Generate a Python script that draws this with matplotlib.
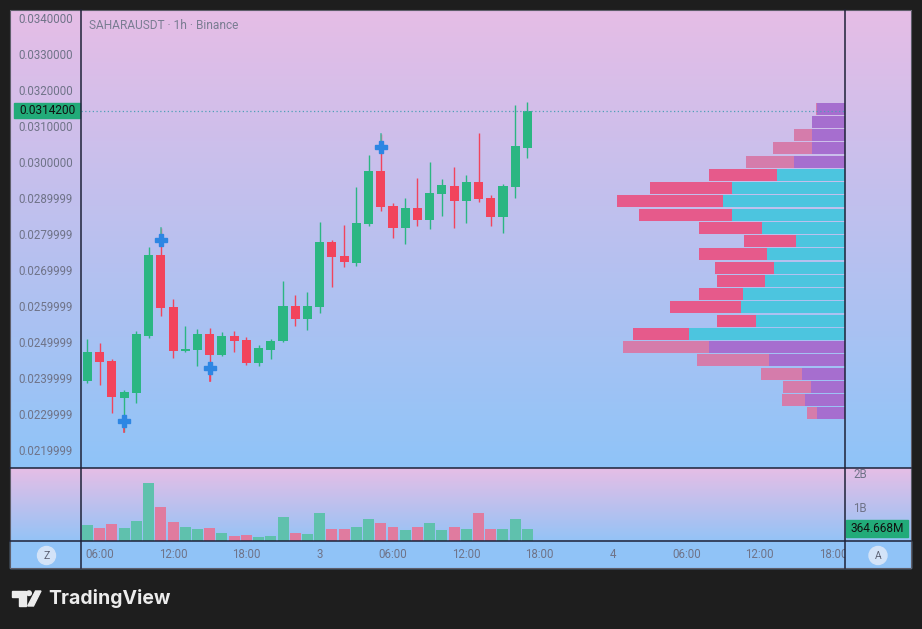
import matplotlib
matplotlib.use("Agg")
import matplotlib.pyplot as plt
import matplotlib.patches as patches
import numpy as np
from matplotlib.colors import to_rgb

plt.rcParams['font.family'] = ['Roboto', 'DejaVu Sans']

W, H = 922, 629

# --- data (1h candles, 2nd 05:00 -> 3rd 17:00) ---
hours = np.arange(5, 42)  # hours since day 2 00:00
opens = [0.023925, 0.024714, 0.024481, 0.023453, 0.023592, 0.025167, 0.027417, 0.025981,
         0.024750, 0.024778, 0.025222, 0.024639, 0.025167, 0.025056, 0.024425, 0.024786,
         0.025036, 0.026000, 0.025631, 0.025981, 0.027769, 0.027389, 0.027203, 0.028278,
         0.029758, 0.028778, 0.028175, 0.028731, 0.028389, 0.029111, 0.029333, 0.028925,
         0.029444, 0.029008, 0.028481, 0.029314, 0.030397]
highs = [0.025083, 0.024964, 0.024519, 0.023667, 0.025314, 0.027647, 0.028158, 0.026194,
         0.025444, 0.025361, 0.025381, 0.025286, 0.025306, 0.025131, 0.024917, 0.025075,
         0.026694, 0.026306, 0.026397, 0.028325, 0.027833, 0.028250, 0.029314, 0.030194,
         0.030769, 0.028853, 0.029008, 0.029564, 0.030008, 0.029519, 0.029869, 0.029639,
         0.030814, 0.029083, 0.029389, 0.031583, 0.031658]
lows = [0.023861, 0.023806, 0.023019, 0.022500, 0.023297, 0.025103, 0.025731, 0.024564,
        0.024714, 0.024342, 0.023917, 0.024620, 0.024731, 0.024361, 0.024342, 0.024519,
        0.025008, 0.025453, 0.025333, 0.025797, 0.026536, 0.027075, 0.027111, 0.028222,
        0.028647, 0.027897, 0.027722, 0.028231, 0.028139, 0.028500, 0.028175, 0.028314,
        0.028897, 0.028231, 0.028036, 0.028992, 0.030119]
closes = [0.024731, 0.024453, 0.023464, 0.023611, 0.025222, 0.027417, 0.025953, 0.024758,
          0.024792, 0.025222, 0.024639, 0.025167, 0.025036, 0.024425, 0.024833, 0.025028,
          0.026000, 0.025631, 0.026000, 0.027769, 0.027369, 0.027231, 0.028297, 0.029750,
          0.028758, 0.028175, 0.028731, 0.028389, 0.029131, 0.029361, 0.028925, 0.029444,
          0.028981, 0.028481, 0.029333, 0.030444, 0.031420]
volume_b = [0.47, 0.38, 0.51, 0.38, 0.59, 1.71, 1.00, 0.57, 0.41, 0.35, 0.38, 0.24, 0.14,
            0.17, 0.11, 0.14, 0.71, 0.24, 0.21, 0.83, 0.35, 0.35, 0.41, 0.65, 0.54, 0.41,
            0.32, 0.41, 0.53, 0.33, 0.41, 0.36, 0.83, 0.35, 0.36, 0.65, 0.365]

# signal markers
sig_hours = [8, 11, 15, 29]
sig_price = [0.022806, 0.027833, 0.024278, 0.030417]
sig_side = ['low', 'high', 'low', 'high']

# volume profile, rows top -> bottom (arbitrary volume units)
profile_high = 0.031667
profile_low = 0.022833
prof_up = [112, 132, 132, 132, 203, 271, 452, 487, 452, 332, 195, 312, 284, 320, 407, 416,
           356, 624, 543, 304, 172, 136, 161, 111]
prof_down = [4, 0, 71, 156, 193, 273, 328, 424, 371, 252, 208, 271, 235, 192, 176, 283,
             155, 223, 344, 287, 165, 111, 90, 40]
va_rows = range(5, 18)

yticks = [0.034, 0.033, 0.032, 0.031, 0.030, 0.0289999, 0.0279999, 0.0269999, 0.0259999,
          0.0249999, 0.0239999, 0.0229999, 0.0219999]
ytick_labels = ['0.0340000', '0.0330000', '0.0320000', '0.0310000', '0.0300000',
                '0.0289999', '0.0279999', '0.0269999', '0.0259999', '0.0249999',
                '0.0239999', '0.0229999', '0.0219999']
xticks = [6, 12, 18, 24, 30, 36, 42, 48, 54, 60, 66]
xtick_labels = ['06:00', '12:00', '18:00', '3', '06:00', '12:00', '18:00', '4',
                '06:00', '12:00', '18:00']
last_price = 0.03142
last_volume = '364.668M'

GREEN = '#2bb682'
RED = '#f2445c'
VOL_UP = '#5fc1ad'
VOL_DN = '#e07b9f'
TXT = '#6f7388'
LINE = '#1e2238'


def box(x0, y0, x1, y1):
    return [x0 / W, 1 - y1 / H, (x1 - x0) / W, (y1 - y0) / H]


def vgrad(top, bot, n=256):
    a, b = np.array(to_rgb(top)), np.array(to_rgb(bot))
    t = np.linspace(0, 1, n)[:, None]
    return (a + (b - a) * t)[:, None, :]


fig = plt.figure(figsize=(W / 100, H / 100), dpi=100, facecolor='#1e1e1e')

# background panels
bg = fig.add_axes([0, 0, 1, 1])
bg.axis('off')
bg.imshow(vgrad('#e6bde6', '#8fc4f8'), extent=(10, 911, 468, 10), aspect='auto',
          interpolation='bilinear')
bg.imshow(vgrad('#e6bee6', '#94c3f6'), extent=(10, 911, 541, 468), aspect='auto',
          interpolation='bilinear')
bg.add_patch(patches.Rectangle((10, 541), 901, 27, color='#90c3f7'))
bg.set_xlim(0, W)
bg.set_ylim(H, 0)

# main price pane
y_top = 0.034 + 8 / 36000
y_bot = 0.034 - 450 / 36000
x_left = 5 - 6.5 / 12.22
x_right = x_left + 764 / 12.22

pax = fig.add_axes(box(81, 10, 845, 468))
pax.patch.set_alpha(0)
row_h = (profile_high - profile_low) / len(prof_up)
centers = profile_high - (np.arange(len(prof_up)) + 0.5) * row_h
up_cols = ['#4cc5df' if i in va_rows else '#a66ecf' for i in range(len(prof_up))]
dn_cols = ['#e65a8b' if i in va_rows else '#d57cab' for i in range(len(prof_up))]
pax.barh(centers, prof_up, height=row_h * 0.92, left=0, color=up_cols)
pax.barh(centers, prof_down, height=row_h * 0.92, left=prof_up, color=dn_cols)
tot_max = max(u + d for u, d in zip(prof_up, prof_down))
pax.set_xlim(tot_max / 0.298, 0)
pax.set_ylim(y_bot, y_top)
pax.axis('off')

ax = fig.add_axes(box(81, 10, 845, 468))
ax.patch.set_alpha(0)
cols = [GREEN if c >= o else RED for o, c in zip(opens, closes)]
ax.vlines(hours, lows, highs, colors=cols, linewidth=1.0)
body = [max(abs(c - o), 0.00003) for o, c in zip(opens, closes)]
ax.bar(hours, body, bottom=np.minimum(opens, closes), width=0.74, color=cols, linewidth=0)
for h, p, s in zip(sig_hours, sig_price, sig_side):
    i = list(hours).index(h)
    end = lows[i] if s == 'low' else highs[i]
    ax.plot([h, h], [p, end], color=RED if s == 'low' else '#4fb7a6', lw=1.2, zorder=4)
    ax.plot(h, p, marker='P', ms=9, color='#2d86e3', mec='#2d86e3', zorder=5)
ax.axhline(last_price, color='#4f9fb8', lw=0.9, ls=(0, (1, 2)))
ax.set_xlim(x_left, x_right)
ax.set_ylim(y_bot, y_top)
ax.set_yticks(yticks)
ax.set_yticklabels(ytick_labels)
ax.tick_params(axis='y', length=0, pad=6, labelsize=8.3, labelcolor=TXT)
ax.set_xticks([])
for s in ax.spines.values():
    s.set_visible(False)
ax.text(0.011, 0.967, 'SAHARAUSDT · 1h · Binance', transform=ax.transAxes,
        fontsize=8.6, color='#7a7d92', va='center', ha='left')

# volume pane
vax = fig.add_axes(box(81, 468, 845, 541))
vax.patch.set_alpha(0)
vcols = [VOL_UP if c >= o else VOL_DN for o, c in zip(opens, closes)]
vax.bar(hours, volume_b, width=0.9, color=vcols, linewidth=0)
vax.set_xlim(x_left, x_right)
vax.set_ylim(0, 73 / 34)
vax.yaxis.tick_right()
vax.set_yticks([1, 2])
vax.set_yticklabels(['1B', '2B'])
vax.tick_params(axis='y', length=0, pad=6, labelsize=8.3, labelcolor=TXT)
vax.set_xticks([])
for s in vax.spines.values():
    s.set_visible(False)

# time axis
tax = fig.add_axes(box(81, 541, 845, 568))
tax.patch.set_alpha(0)
tax.set_xlim(x_left, x_right)
tax.set_ylim(0, 1)
tax.axis('off')
for x, lab in zip(xticks, xtick_labels):
    tax.text(x, 0.5, lab, ha='center', va='center', fontsize=8.3, color=TXT, clip_on=True)

# overlay: separators, price labels, buttons, logo
ov = fig.add_axes([0, 0, 1, 1], zorder=10)
ov.patch.set_alpha(0)
ov.set_xlim(0, W)
ov.set_ylim(H, 0)
ov.axis('off')
ov.add_patch(patches.Rectangle((10, 9.5), 901, 558.5, fill=False, ec='#5e5e6a', lw=0.8))
for yy in (468, 541):
    ov.plot([10, 911], [yy, yy], color=LINE, lw=1.1)
for xx in (81, 845):
    ov.plot([xx, xx], [10, 568], color=LINE, lw=1.1)

py = 18 + (0.034 - last_price) * 36000
ov.add_patch(patches.Rectangle((14, py - 7.5), 66, 15, color='#22ab79'))
ov.text(47, py, '0.0314200', ha='center', va='center', fontsize=8.6, color='#111111')
ov.add_patch(patches.Rectangle((846, 520), 62, 17, color='#22ab79'))
ov.text(877, 528.5, last_volume, ha='center', va='center', fontsize=8.6, color='#111111')

for cx, lab in ((46.5, 'Z'), (878, 'A')):
    ov.add_patch(patches.Circle((cx, 555.5), 9, color='#d3e3f8'))
    ov.text(cx, 556, lab, ha='center', va='center', fontsize=7.5, color='#5d6275')

# TradingView logo
LOGO = '#ececec'
ov.add_patch(patches.Polygon([(12, 591), (25.5, 591), (25.5, 606), (19, 606), (19, 597),
                              (12, 597)], closed=True, color=LOGO))
ov.add_patch(patches.Circle((29, 593.2), 2.3, color=LOGO))
ov.add_patch(patches.Polygon([(27.7, 606), (33.5, 606), (41, 591), (35.5, 591)],
                             closed=True, color=LOGO))
ov.text(48.5, 599, 'TradingView', ha='left', va='center', fontsize=14,
        fontweight='bold', color=LOGO, family=['Inter', 'DejaVu Sans'])

fig.savefig('out.png', dpi=100, facecolor=fig.get_facecolor())
